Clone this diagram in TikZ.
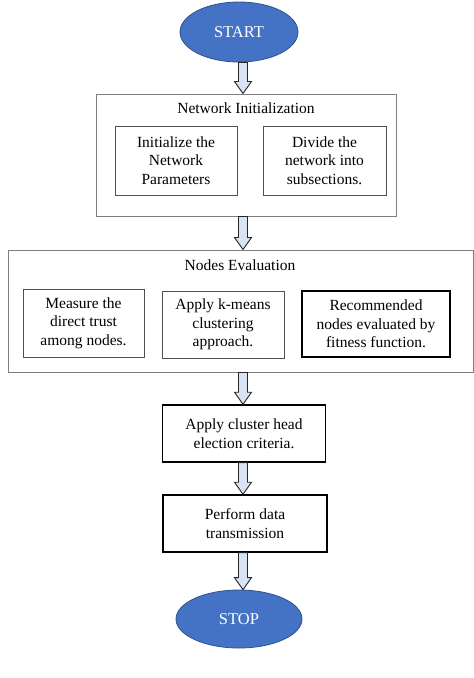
\documentclass[tikz,border=0pt]{standalone}
\usepackage{fontspec}
\setmainfont{Liberation Serif}
\usetikzlibrary{shapes.geometric,calc}
\definecolor{ovalblue}{HTML}{4472C4}
\definecolor{ovaledge}{HTML}{2F528F}
\definecolor{arrowfill}{HTML}{DAE3F3}
\definecolor{outergray}{HTML}{7F7F7F}
\definecolor{innergray}{HTML}{505050}
\tikzset{
  txt/.style={font=\fontsize{15.5}{18.5}\selectfont, align=center, text=black},
  oval/.style={ellipse, fill=ovalblue, draw=ovaledge, line width=0.8pt, text=white, font=\fontsize{16.5}{19}\selectfont, inner sep=0pt},
  outerbox/.style={rectangle, draw=outergray, line width=1pt, inner sep=0pt},
  innerbox/.style={rectangle, draw=innergray, line width=1pt, inner sep=0pt, txt},
  boldbox/.style={rectangle, draw=black, line width=1.5pt, inner sep=0pt, txt},
  barrow/.style={fill=arrowfill, draw=black!85, line width=0.9pt, line join=miter},
}
\newcommand\blkarrow[2]{%
  \draw[barrow] let \p1=(#1.south -| ax), \p2=(#2.north -| ax) in
    (\x1-4.5pt,\y1) -- (\x1+4.5pt,\y1) -- (\x1+4.5pt,\y2+12pt) -- (\x1+8.5pt,\y2+12pt)
    -- (\x1,\y2) -- (\x1-8.5pt,\y2+12pt) -- (\x1-4.5pt,\y2+12pt) -- cycle;}
\begin{document}
\begin{tikzpicture}[x=1pt,y=-1pt]
\useasboundingbox[fill=white] (0,0) rectangle (474,678);
\coordinate (ax) at (243,0);
% top oval
\node[oval, minimum width=118pt, minimum height=60pt] (start) at (239,32) {START};
% network initialization
\node[outerbox, minimum width=300pt, minimum height=122pt] (netbox) at (246,155) {};
\node[txt] (nettitle) at (246,108) {Network Initialization};
\node[innerbox, minimum width=122pt, minimum height=69pt] (init) at (176,160.5) {Initialize the\\Network\\Parameters};
\node[innerbox, minimum width=123pt, minimum height=69pt] (divide) at (324.5,160.5) {Divide the\\network into\\subsections.};
% nodes evaluation
\node[outerbox, minimum width=465pt, minimum height=122pt] (evalbox) at (240.5,311) {};
\node[txt] (evaltitle) at (240,265) {Nodes Evaluation};
\node[innerbox, minimum width=121pt, minimum height=68pt] (measure) at (83.5,323) {Measure the\\direct trust\\among nodes.};
\node[innerbox, minimum width=122pt, minimum height=67pt] (kmeans) at (223,324.5) {Apply k-means\\clustering\\approach.};
\node[boldbox, minimum width=148pt, minimum height=66pt] (recom) at (376,324) {Recommended\\nodes evaluated by\\fitness function.};
% cluster head
\node[boldbox, minimum width=163pt, minimum height=57pt] (cluster) at (244,433.5) {Apply cluster head\\election criteria.};
\node[boldbox, minimum width=164pt, minimum height=57pt] (perform) at (245,523.5) {Perform data\\transmission};
% stop oval
\node[oval, minimum width=126pt, minimum height=58pt] (stop) at (239,619) {STOP};
% arrows
\blkarrow{start}{netbox}
\blkarrow{netbox}{evalbox}
\blkarrow{evalbox}{cluster}
\blkarrow{cluster}{perform}
\blkarrow{perform}{stop}
\end{tikzpicture}
\end{document}
